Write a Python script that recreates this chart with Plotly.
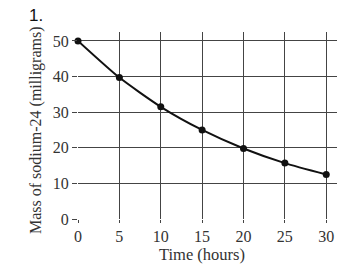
import plotly.graph_objects as go

time_hours = [0, 5, 10, 15, 20, 25, 30]
mass_mg = [50, 39.7, 31.5, 25, 19.8, 15.7, 12.5]
x_ticks = [0, 5, 10, 15, 20, 25, 30]
y_ticks = [0, 10, 20, 30, 40, 50]

fig = go.Figure()
fig.add_trace(go.Scatter(
    x=time_hours, y=mass_mg, mode="lines+markers",
    line=dict(color="#111", width=2, shape="spline", smoothing=0.6),
    marker=dict(color="#111", size=7),
    cliponaxis=False, showlegend=False,
))

serif = "Liberation Serif"
W, H = 259, 187  # plot area size in px
fig.update_layout(
    width=355, height=265,
    margin=dict(l=78, r=18, t=32, b=46),
    paper_bgcolor="white", plot_bgcolor="white",
    font=dict(family=serif, size=16, color="#333"),
    xaxis=dict(range=[0, 31.3], tickvals=x_ticks, showgrid=True, gridcolor="#444",
               gridwidth=1, zeroline=False, showline=False,
               ticks="outside", ticklen=3, tickcolor="#444",
               tickfont=dict(family=serif, size=16, color="#333")),
    yaxis=dict(range=[0, 52.5], tickvals=y_ticks, showgrid=True, gridcolor="#444",
               gridwidth=1, zeroline=False, showline=False,
               ticks="outside", ticklen=5, tickcolor="#444",
               tickfont=dict(family=serif, size=16, color="#333")),
    annotations=[
        dict(text="1.", x=(27 - 78) / W, y=1 + 28 / H, xref="paper", yref="paper",
             showarrow=False, xanchor="left", yanchor="top",
             font=dict(family="Liberation Sans", size=17, color="#111")),
        dict(text="Mass of sodium-24 (milligrams)", textangle=-90,
             x=(36 - 78) / W, y=(219 - 130) / H, xref="paper", yref="paper",
             showarrow=False, xanchor="center", yanchor="middle",
             font=dict(family=serif, size=16, color="#333")),
        dict(text="Time (hours)", x=(201.5 - 78) / W, y=(219 - 255) / H,
             xref="paper", yref="paper", showarrow=False,
             xanchor="center", yanchor="middle",
             font=dict(family=serif, size=16.5, color="#333")),
    ],
)
fig.write_html("out.html")
